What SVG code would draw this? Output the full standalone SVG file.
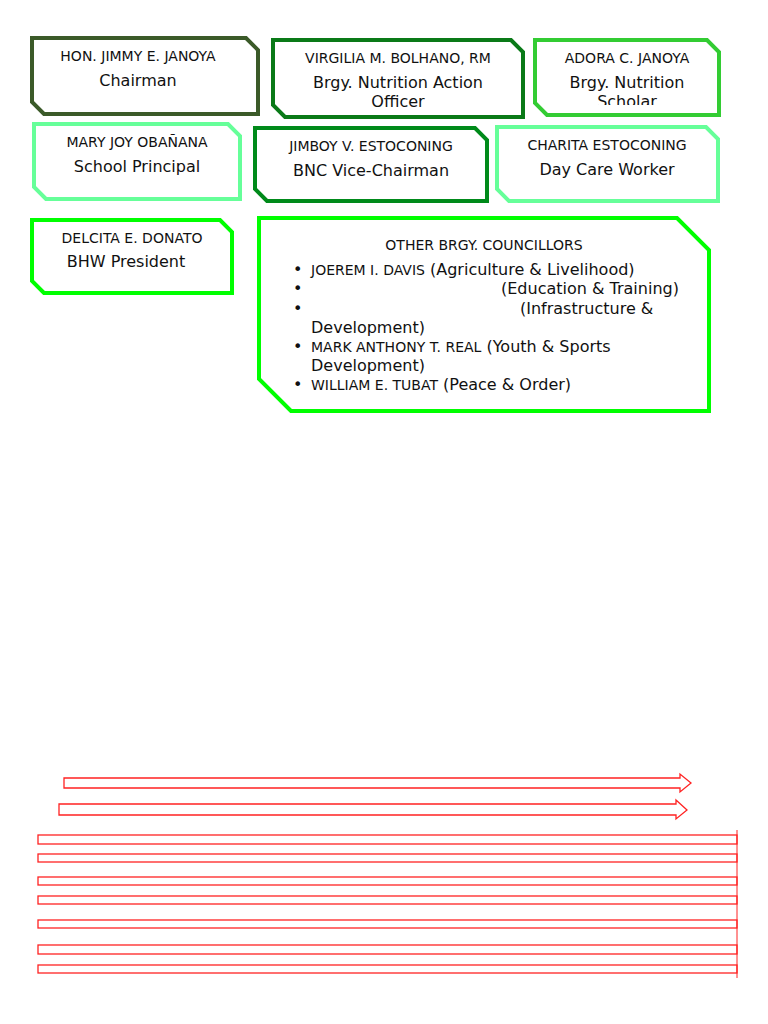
<svg xmlns="http://www.w3.org/2000/svg" width="768" height="1024" viewBox="0 0 768 1024">
<style>
.b{fill:#fff;stroke-width:4;stroke-linejoin:miter}
.n{font-family:"DejaVu Sans",sans-serif;font-size:14px;fill:#111;text-anchor:middle}
.t{font-family:"DejaVu Sans",sans-serif;font-size:16px;fill:#111;text-anchor:middle}
.l{font-family:"DejaVu Sans",sans-serif;font-size:16px;fill:#111}
.s{font-size:14px}
.r{fill:#fff;stroke:#f22;stroke-width:1.3}
</style>
<rect width="768" height="1024" fill="#fff"/>
<g id="n1"><path class="b" stroke="#3b5a29" d="M32,38H246L258,50V114H44L32,102Z"/><text class="n" x="138" y="61">HON. JIMMY E. JANOYA</text><text class="t" x="138" y="86">Chairman</text></g>
<g id="n2"><path class="b" stroke="#0a7a18" d="M273,40H511L523,52V117H285L273,105Z"/><text class="n" x="398" y="63">VIRGILIA M. BOLHANO, RM</text><text class="t" x="398" y="88">Brgy. Nutrition Action</text><text class="t" x="398" y="107">Officer</text></g>
<g id="n3"><path class="b" stroke="#33cc33" d="M535,40H707L719,52V115H547L535,103Z"/><text class="n" x="627" y="63">ADORA C. JANOYA</text><text class="t" x="627" y="88">Brgy. Nutrition</text><text class="t" x="627" y="107" clip-path="url(#c3)">Scholar</text></g>
<defs><clipPath id="c3"><rect x="540" y="90" width="170" height="15"/></clipPath></defs>
<g id="n4"><path class="b" stroke="#66ff99" d="M34,124H228L240,136V199H46L34,187Z"/><text class="n" x="137" y="147">MARY JOY OBAÑANA</text><text class="t" x="137" y="172">School Principal</text></g>
<g id="n5"><path class="b" stroke="#008a1a" d="M255,128H475L487,140V201H267L255,189Z"/><text class="n" x="371" y="151">JIMBOY V. ESTOCONING</text><text class="t" x="371" y="176">BNC Vice-Chairman</text></g>
<g id="n6"><path class="b" stroke="#66ff99" d="M497,127H706L718,139V201H509L497,189Z"/><text class="n" x="607" y="150">CHARITA ESTOCONING</text><text class="t" x="607" y="175">Day Care Worker</text></g>
<g id="n7"><path class="b" stroke="#00ff00" d="M32,220H220L232,232V293H44L32,281Z"/><text class="n" x="132" y="243">DELCITA E. DONATO</text><text class="t" x="126" y="267">BHW President</text></g>
<g id="n8"><path class="b" stroke="#00ff00" d="M259,218H677L709,250V411H291L259,379Z"/>
<text class="n" x="484" y="250">OTHER BRGY. COUNCILLORS</text>
<g class="l">
<text x="293" y="275">•</text><text x="311" y="275"><tspan class="s">JOEREM I. DAVIS</tspan> (Agriculture &amp; Livelihood)</text>
<text x="293" y="294">•</text><text x="501" y="294">(Education &amp; Training)</text>
<text x="293" y="314">•</text><text x="520" y="314">(Infrastructure &amp;</text>
<text x="311" y="333">Development)</text>
<text x="293" y="352">•</text><text x="311" y="352"><tspan class="s">MARK ANTHONY T. REAL</tspan> (Youth &amp; Sports</text>
<text x="311" y="371">Development)</text>
<text x="293" y="390">•</text><text x="311" y="390"><tspan class="s">WILLIAM E. TUBAT</tspan> (Peace &amp; Order)</text>
</g></g>
<g id="connectors">
<path class="r" d="M64,778H680V774L691,783L680,792V788H64Z"/>
<path class="r" d="M59,804H676V800L687,810L676,819V815H59Z"/>
<rect class="r" x="38" y="835" width="699" height="9"/>
<rect class="r" x="38" y="854" width="699" height="8"/>
<rect class="r" x="38" y="877" width="699" height="8"/>
<rect class="r" x="38" y="896" width="699" height="8"/>
<rect class="r" x="38" y="920" width="699" height="8"/>
<rect class="r" x="38" y="945" width="699" height="9"/>
<rect class="r" x="38" y="965" width="699" height="8"/>
<line x1="737" y1="830" x2="737" y2="978" stroke="#f22" stroke-width="1"/>
</g>
</svg>
